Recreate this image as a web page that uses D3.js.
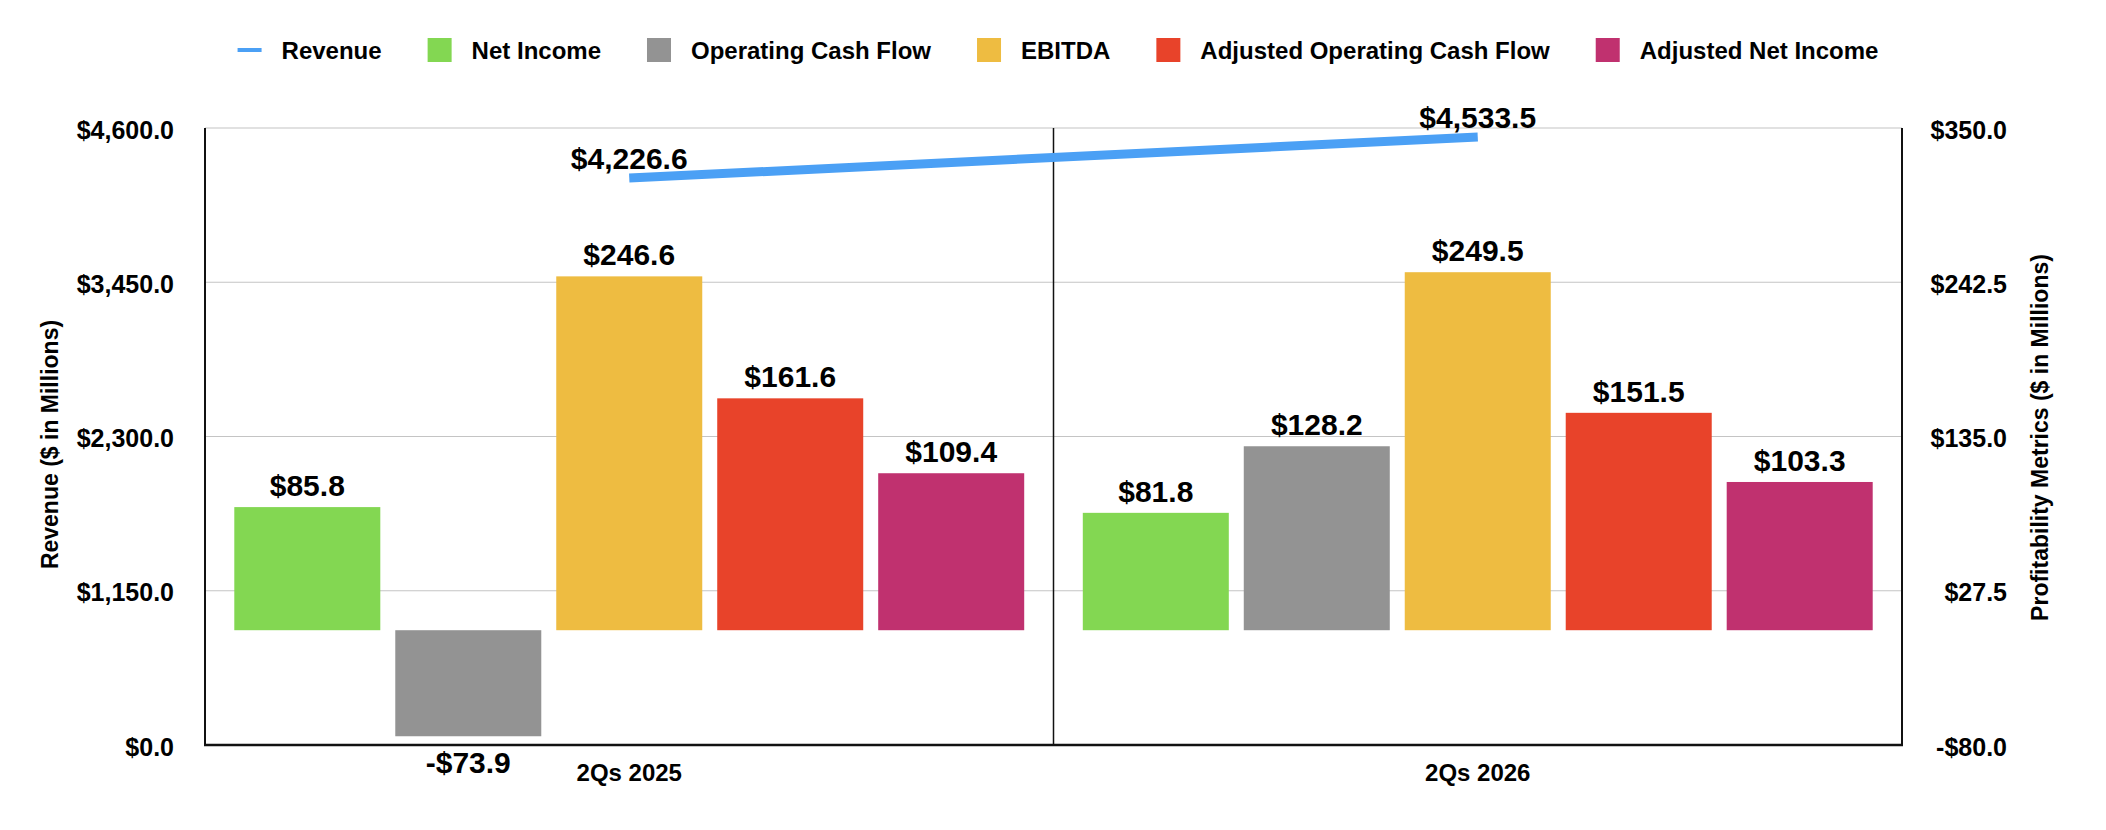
<!DOCTYPE html>
<html>
<head>
<meta charset="utf-8">
<script src="https://cdn.jsdelivr.net/npm/d3@7"></script>
<style>
  html, body { margin: 0; padding: 0; background: #ffffff; }
  svg text { font-family: "Liberation Sans", Arial, Helvetica, sans-serif; font-weight: bold; fill: #000; }
</style>
</head>
<body>
<div id="chart"></div>
<script>
  const categories = ["2Qs 2025", "2Qs 2026"];
  const revenue = [4226.6, 4533.5];
  const seriesNames = ["Net Income", "Operating Cash Flow", "EBITDA", "Adjusted Operating Cash Flow", "Adjusted Net Income"];
  const netIncome = [85.8, 81.8];
  const operatingCashFlow = [-73.9, 128.2];
  const ebitda = [246.6, 249.5];
  const adjOperatingCashFlow = [161.6, 151.5];
  const adjNetIncome = [109.4, 103.3];
  const leftTicks = [0, 1150, 2300, 3450, 4600];
  const rightTicks = [-80, 27.5, 135, 242.5, 350];

  const seriesValues = [netIncome, operatingCashFlow, ebitda, adjOperatingCashFlow, adjNetIncome];
  const colors = ["#83D752", "#939393", "#EEBC41", "#E8432A", "#C0316F"];
  const revenueColor = "#4BA0F5";

  const width = 2106;
  const height = 830;
  const margin = { top: 128, right: 204, bottom: 85, left: 205 };

  const money = (v) => (v < 0 ? "-$" : "$") + d3.format(",.1f")(Math.abs(v));

  const svg = d3.select("#chart").append("svg").attr("width", width).attr("height", height);

  const x0 = d3.scaleBand().domain(categories).range([margin.left, width - margin.right]).padding(0);
  const x1 = d3.scaleBand().domain(seriesNames).range([0, x0.bandwidth()]).paddingInner(0.093).paddingOuter(0.182);
  const yLeft = d3.scaleLinear().domain([0, 4600]).range([height - margin.bottom, margin.top]);
  const yRight = d3.scaleLinear().domain([-80, 350]).range([height - margin.bottom, margin.top]);

  // grid
  svg.append("g")
    .selectAll("line")
    .data(leftTicks.slice(1))
    .join("line")
    .attr("x1", margin.left)
    .attr("x2", width - margin.right)
    .attr("y1", (d) => yLeft(d))
    .attr("y2", (d) => yLeft(d))
    .attr("stroke", "#c4c4c4")
    .attr("stroke-width", 1.2);

  // category divider
  svg.append("line")
    .attr("x1", x0(categories[1]))
    .attr("x2", x0(categories[1]))
    .attr("y1", margin.top)
    .attr("y2", height - margin.bottom)
    .attr("stroke", "#111")
    .attr("stroke-width", 1.5);

  // bars
  const rows = [];
  categories.forEach((cat, ci) => {
    seriesNames.forEach((name, si) => {
      rows.push({ cat, name, value: seriesValues[si][ci], color: colors[si] });
    });
  });

  svg.append("g")
    .selectAll("rect")
    .data(rows)
    .join("rect")
    .attr("x", (d) => x0(d.cat) + x1(d.name))
    .attr("width", x1.bandwidth())
    .attr("y", (d) => yRight(Math.max(0, d.value)))
    .attr("height", (d) => Math.abs(yRight(d.value) - yRight(0)))
    .attr("fill", (d) => d.color);

  svg.append("g")
    .selectAll("text")
    .data(rows)
    .join("text")
    .attr("x", (d) => x0(d.cat) + x1(d.name) + x1.bandwidth() / 2)
    .attr("y", (d) => (d.value >= 0 ? yRight(d.value) - 11 : yRight(d.value) + 37))
    .attr("text-anchor", "middle")
    .attr("font-size", 30)
    .text((d) => money(d.value));

  // axes
  const bottomY = height - margin.bottom;
  svg.append("line")
    .attr("x1", margin.left).attr("x2", margin.left)
    .attr("y1", margin.top).attr("y2", bottomY)
    .attr("stroke", "#111").attr("stroke-width", 2);
  svg.append("line")
    .attr("x1", width - margin.right).attr("x2", width - margin.right)
    .attr("y1", margin.top).attr("y2", bottomY)
    .attr("stroke", "#111").attr("stroke-width", 2);
  svg.append("line")
    .attr("x1", margin.left - 1).attr("x2", width - margin.right + 1)
    .attr("y1", bottomY).attr("y2", bottomY)
    .attr("stroke", "#111").attr("stroke-width", 2.5);

  svg.append("g")
    .selectAll("text")
    .data(leftTicks)
    .join("text")
    .attr("x", 174)
    .attr("y", (d) => yLeft(d))
    .attr("dy", "0.42em")
    .attr("text-anchor", "end")
    .attr("font-size", 25)
    .text((d) => money(d));

  svg.append("g")
    .selectAll("text")
    .data(rightTicks)
    .join("text")
    .attr("x", 2007)
    .attr("y", (d) => yRight(d))
    .attr("dy", "0.42em")
    .attr("text-anchor", "end")
    .attr("font-size", 25)
    .text((d) => money(d));

  svg.append("g")
    .selectAll("text")
    .data(categories)
    .join("text")
    .attr("x", (d) => x0(d) + x0.bandwidth() / 2)
    .attr("y", bottomY + 36)
    .attr("text-anchor", "middle")
    .attr("font-size", 24)
    .text((d) => d);

  const midY = (margin.top + bottomY) / 2;
  svg.append("text")
    .attr("transform", `translate(58, ${midY + 8}) rotate(-90)`)
    .attr("text-anchor", "middle")
    .attr("font-size", 23)
    .text("Revenue ($ in Millions)");
  svg.append("text")
    .attr("transform", `translate(2048, ${midY + 1}) rotate(-90)`)
    .attr("text-anchor", "middle")
    .attr("font-size", 23)
    .text("Profitability Metrics ($ in Millions)");

  // revenue line
  const line = d3.line()
    .x((d, i) => x0(categories[i]) + x0.bandwidth() / 2)
    .y((d) => yLeft(d));
  svg.append("path")
    .datum(revenue)
    .attr("d", line)
    .attr("fill", "none")
    .attr("stroke", revenueColor)
    .attr("stroke-width", 9);

  svg.append("g")
    .selectAll("text")
    .data(revenue)
    .join("text")
    .attr("x", (d, i) => x0(categories[i]) + x0.bandwidth() / 2)
    .attr("y", (d) => yLeft(d) - 9)
    .attr("text-anchor", "middle")
    .attr("font-size", 30)
    .text((d) => money(d));

  // legend
  const legendItems = [{ label: "Revenue", color: revenueColor, line: true }].concat(
    seriesNames.map((name, i) => ({ label: name, color: colors[i], line: false }))
  );
  const legendGap = 46;
  const legend = svg.append("g");
  let cursor = 0;
  legendItems.forEach((item) => {
    const g = legend.append("g").attr("transform", `translate(${cursor}, 0)`);
    if (item.line) {
      g.append("rect").attr("x", 0).attr("y", -2).attr("width", 24).attr("height", 4).attr("fill", item.color);
    } else {
      g.append("rect").attr("x", 0).attr("y", -12).attr("width", 24).attr("height", 24).attr("fill", item.color);
    }
    const t = g.append("text")
      .attr("x", 44)
      .attr("y", 0)
      .attr("dy", "0.36em")
      .attr("font-size", 24)
      .text(item.label);
    cursor += 44 + t.node().getComputedTextLength() + legendGap;
  });
  const legendWidth = cursor - legendGap;
  legend.attr("transform", `translate(${1058 - legendWidth / 2}, 50)`);
</script>
</body>
</html>
